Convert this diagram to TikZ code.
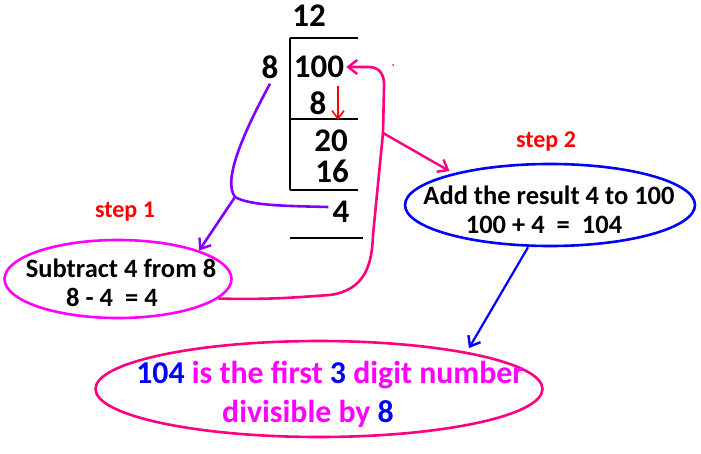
\documentclass[tikz,border=0pt]{standalone}
\usepackage{fontspec}
\setmainfont{Carlito}
\usetikzlibrary{arrows.meta,shapes.geometric}
\definecolor{dpink}{RGB}{255,0,128}
\definecolor{mag}{RGB}{255,0,255}
\definecolor{purp}{RGB}{128,0,255}
\definecolor{blu}{RGB}{0,0,255}
\definecolor{rd}{RGB}{255,0,0}
\tikzset{
  big/.style={inner sep=0pt,font=\bfseries\fontsize{33}{36}\selectfont},
  txt/.style={inner sep=0pt,font=\bfseries\fontsize{26.5}{30}\selectfont},
  bigtxt/.style={inner sep=0pt,font=\bfseries\fontsize{31.8}{36}\selectfont},
  steplabel/.style={inner sep=0pt,text=rd,font=\bfseries\fontsize{24}{28}\selectfont},
  oval/.style={ellipse,draw,line width=2.6pt,inner sep=0pt},
  divline/.style={line width=2.8pt,black},
  tip/.style={-{Straight Barb[length=9pt,width=14pt,line width=2.4pt]}},
}
\begin{document}
\begin{tikzpicture}[x=1pt,y=-1pt]
\useasboundingbox (0,0) rectangle (701,454);
\fill[white] (0,0) rectangle (701,454);
% division layout
\node[big] (q) at (309,16) {12};
\node[big] (d) at (270,67) {8};
\node[big] (n) at (319,67) {100};
\node[big] (s8) at (318,103) {8};
\node[big] (r20) at (331,141) {20};
\node[big] (r16) at (332,171) {16};
\node[big] (r4) at (341,212) {4};
\draw[divline] (290,38) -- (358,38);
\draw[divline] (290,38) -- (290,190);
\draw[divline] (290,119) -- (358,119);
\draw[divline] (290,190) -- (358,190);
\draw[divline] (290,238) -- (363,238);
\coordinate (ra) at (338,86);
\coordinate (rb) at (338,120);
\draw[rd,line width=1.6pt,-{Straight Barb[length=8pt,width=12pt,line width=1.6pt]}] (ra) -- (rb);
% ovals
\node[oval,draw=mag,minimum width=227pt,minimum height=78pt] (e1) at (118,279) {};
\node[oval,draw=blu,minimum width=290pt,minimum height=82pt] (e2) at (550,205) {};
\node[oval,draw=dpink,minimum width=447pt,minimum height=96pt] (e3) at (319,389) {};
% texts
\node[txt] (t1a) at (121,268) {Subtract 4 from 8};
\node[txt] (t1b) at (112,297) {8 - 4\ \ = 4};
\node[txt] (t2a) at (549,195) {Add the result 4 to 100};
\node[txt] (t2b) at (544,225) {100 + 4\ \ =\ \ 104};
\node[bigtxt,anchor=base] (t3a) at (330,383) {\textcolor{blu}{104} \textcolor{mag}{is the first} \textcolor{blu}{3} \textcolor{mag}{digit number}};
\node[bigtxt,anchor=base] (t3b) at (308,422) {\textcolor{mag}{divisible by} \textcolor{blu}{8}};
\node[steplabel] (st1) at (125,212) {step 1};
\node[steplabel] (st2) at (546,142) {step 2};
% purple connector
\coordinate (pb) at (235,197);
\draw[purp,line width=2.6pt] ([yshift=-5pt]d.south) .. controls (245,130) and (222,180) .. (pb) .. controls (250,206) and (290,206) .. ([xshift=-4pt,yshift=5pt]r4.west);
\draw[purp,line width=2.6pt,tip] (pb) -- (e1.north east);
% pink connector
\coordinate (pp) at (383,133);
\draw[dpink,line width=2.6pt,tip] (e1.-11) .. controls (270,300) and (300,297) .. (330,295) .. controls (365,290) and (372,265) .. (373,235) -- (pp) -- (384,88) .. controls (385,72) and (378,66) .. (365,67) -- ([xshift=2pt]n.east);
\draw[dpink,line width=2.4pt,tip] (pp) -- ([xshift=3pt,yshift=4pt]e2.north west);
\fill[dpink] (393,65) circle (1pt);
% blue connector
\draw[blu,line width=2.2pt,tip] ([xshift=-22pt]e2.south) -- ([xshift=-9pt,yshift=6pt]e3.north east);
\end{tikzpicture}
\end{document}
